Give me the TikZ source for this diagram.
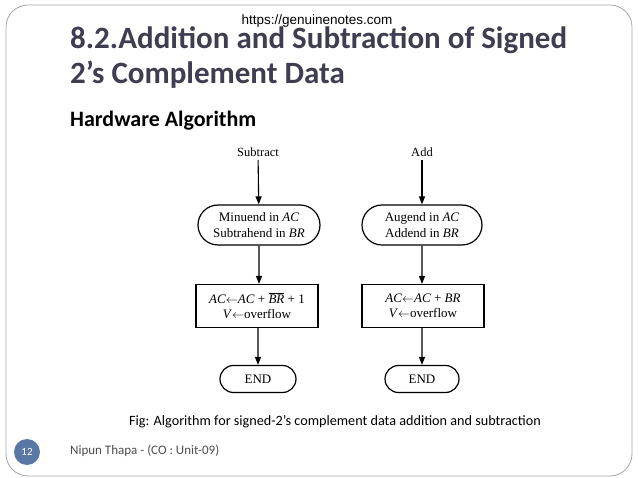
\documentclass[tikz,border=0pt]{standalone}
\usepackage{fontspec}
\setmainfont{Liberation Serif}
\newfontfamily\carl{Carlito}
\newfontfamily\lib{Liberation Sans}
\usetikzlibrary{arrows.meta,shapes.misc}
\definecolor{ttl}{RGB}{62,62,80}
\definecolor{pgc}{RGB}{90,120,165}
\begin{document}
\begin{tikzpicture}[x=1pt,y=-1pt,
  term/.style={draw,line width=1.2pt,rounded rectangle,minimum height=40pt,align=center,inner sep=2pt,font=\fontsize{13}{15.5}\selectfont},
  proc/.style={draw,line width=1.2pt,rectangle,minimum height=43pt,align=center,inner sep=2pt,font=\fontsize{13}{15.5}\selectfont},
  arr/.style={-{Triangle[length=8pt,width=6pt]},line width=1.1pt},
  lbl/.style={font=\fontsize{12.5}{15}\selectfont}]
\useasboundingbox (0,0) rectangle (638,478);
\draw[gray!70,line width=0.8pt,rounded corners=22pt] (6,5) rectangle (632,476);
\node[anchor=base west,inner sep=0pt,font=\carl\bfseries\fontsize{31}{36}\selectfont,text=ttl] (t1) at (70,49) {8.2.Addition and Subtraction of Signed};
\node[anchor=base west,inner sep=0pt,font=\carl\bfseries\fontsize{31}{36}\selectfont,text=ttl] (t2) at (70,84) {2’s Complement Data};
\node[anchor=base west,inner sep=0pt,font=\carl\bfseries\fontsize{22}{26}\selectfont] (t3) at (70,127) {Hardware Algorithm};
\node[font=\lib\fontsize{13.5}{15}\selectfont] (url) at (317,21) {https://genuinenotes.com};
% subtract
\node[lbl] (sl) at (258,152) {Subtract};
\node[term,minimum width=126pt] (s1) at (259,225) {Minuend in \textit{AC}\\Subtrahend in \textit{BR}};
\node[proc,minimum width=122pt] (s2) at (257,306) {\textit{AC}$\leftarrow$\textit{AC} + $\overline{\textit{BR}}$ + 1\\\textit{V}$\leftarrow$overflow};
\node[term,minimum width=80pt,minimum height=27pt] (s3) at (258,379) {END};
\draw[arr] (sl) -- (s1);
\draw[arr] (s1) -- (s1|-s2.north);
\draw[arr] (s2.south-|s3) -- (s3);
% add
\node[lbl] (al) at (422,152) {Add};
\node[term,minimum width=124pt] (a1) at (422,225) {Augend in \textit{AC}\\Addend in \textit{BR}};
\node[proc,minimum width=122pt] (a2) at (423,306) {\textit{AC}$\leftarrow$\textit{AC} + \textit{BR}\\\textit{V}$\leftarrow$overflow};
\node[term,minimum width=78pt,minimum height=27pt] (a3) at (422,379) {END};
\draw[arr] (al) -- (a1);
\draw[arr] (a1) -- (a1|-a2.north);
\draw[arr] (a2.south-|a3) -- (a3);
\node[font=\carl\fontsize{14.2}{16}\selectfont] (cap) at (335,422) {Fig: Algorithm for signed-2’s complement data addition and subtraction};
\node[circle,fill=pgc,text=white,minimum size=26pt,inner sep=0pt,font=\carl\fontsize{11}{13}\selectfont] (pg) at (27,452) {12};
\node[anchor=west,inner sep=0pt,font=\carl\fontsize{13}{15}\selectfont,text=black!70] (ft) at (70,451) {Nipun Thapa - (CO : Unit-09)};
\end{tikzpicture}
\end{document}
